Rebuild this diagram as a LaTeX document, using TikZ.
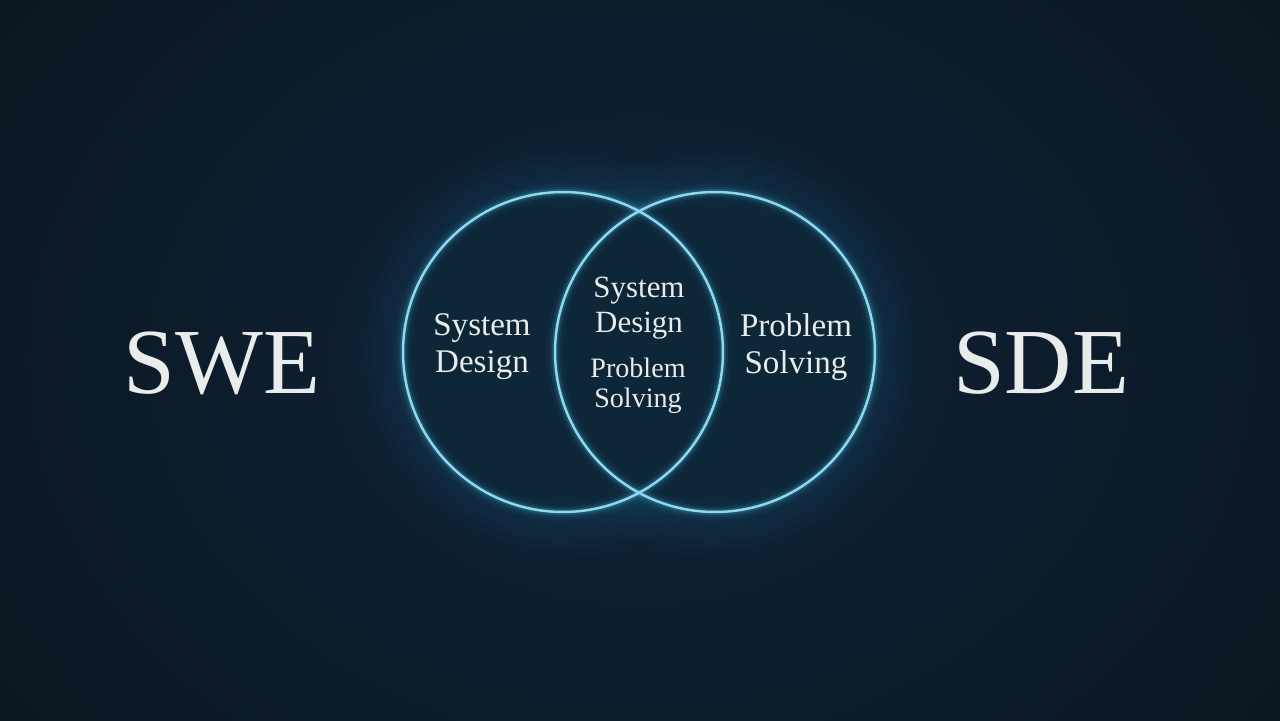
\documentclass[tikz,border=0pt]{standalone}
\usepackage{fontspec}
\setmainfont{Liberation Serif}
\definecolor{bgout}{HTML}{0B151E}
\definecolor{bgin}{HTML}{10243A}
\definecolor{ringfill}{HTML}{0D2638}
\definecolor{ringcol}{HTML}{92D8EA}
\definecolor{glowcol}{HTML}{3AAED4}
\definecolor{txt}{HTML}{E8ECEA}
\tikzset{
  bigtitle/.style={text=txt, inner sep=0pt, anchor=base, font=\fontsize{53pt}{60pt}\selectfont},
  lbltxt/.style={text=txt, inner sep=0pt, anchor=base, font=\fontsize{18.8pt}{22pt}\selectfont},
  midtxt/.style={text=txt, inner sep=0pt, anchor=base, font=\fontsize{17.6pt}{21pt}\selectfont},
  midtxtb/.style={text=txt, inner sep=0pt, anchor=base, font=\fontsize{16pt}{19pt}\selectfont},
  glowA/.style={draw=glowcol, line width=10pt, opacity=0.05},
  glowB/.style={draw=glowcol, line width=6pt, opacity=0.10},
  glowC/.style={draw=glowcol, line width=3.5pt, opacity=0.20},
  ringline/.style={draw=ringcol, line width=1.4pt},
}
\begin{document}
\begin{tikzpicture}[x=0.02cm,y=-0.02cm]
\useasboundingbox (0,0) rectangle (1280,720);
\shade[inner color=bgin, outer color=bgout] (-200,-300) rectangle (1480,1020);
\coordinate (cL) at (563,352);
\coordinate (cR) at (715,352);
% soft halo
\foreach \r in {3.35,3.5,3.65,3.8,3.95,4.1} {
  \fill[glowcol, opacity=0.018] (cL) circle (\r cm);
  \fill[glowcol, opacity=0.018] (cR) circle (\r cm);
}
\fill[ringfill] (cL) circle (3.2cm);
\fill[ringfill] (cR) circle (3.2cm);
% glow layers
\foreach \s in {glowA,glowB,glowC,ringline} {
  \draw[\s] (cL) circle (3.2cm);
  \draw[\s] (cR) circle (3.2cm);
}
% titles
\node[bigtitle] (swe) at (222,393) {SWE};
\node[bigtitle] (sde) at (1041,393) {SDE};
% left circle
\node[lbltxt] (l1) at (482,335) {System};
\node[lbltxt] (l2) at (482,372) {Design};
% center
\node[midtxt] (c1) at (639,297) {System};
\node[midtxt] (c2) at (639,332) {Design};
\node[midtxtb] (c3) at (638,377) {Problem};
\node[midtxtb] (c4) at (638,407) {Solving};
% right circle
\node[lbltxt] (r1) at (796,336) {Problem};
\node[lbltxt] (r2) at (796,373) {Solving};
\end{tikzpicture}
\end{document}
